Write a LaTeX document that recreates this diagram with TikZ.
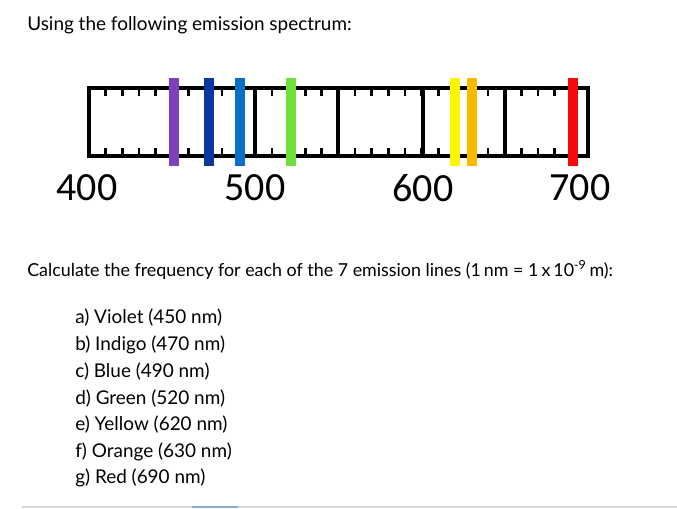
\documentclass[tikz,border=0pt]{standalone}
\usepackage{fontspec}
\setmainfont{Lato}
\newfontfamily\numfont{Carlito}
\begin{document}
\begin{tikzpicture}[x=0.75pt,y=-0.75pt,
  txt/.style={anchor=west,inner sep=0pt,font=\fontsize{14.2pt}{16pt}\selectfont},
  qtxt/.style={anchor=west,inner sep=0pt,font=\fontsize{13.4pt}{16pt}\selectfont},
  num/.style={inner sep=0pt,font=\numfont\fontsize{30pt}{32pt}\selectfont},
  frame/.style={line width=2.6pt,black},
  tick/.style={line width=2pt,black},
  sline/.style={line width=7.5pt}]
\useasboundingbox (0,0) rectangle (677,509);
\definecolor{cviolet}{HTML}{7F3FBF}
\definecolor{cindigo}{HTML}{0A37A0}
\definecolor{cblue}{HTML}{0A6FC8}
\definecolor{cgreen}{HTML}{70E03C}
\definecolor{cyellow}{HTML}{FFF500}
\definecolor{corange}{HTML}{FBBA00}
\definecolor{cred}{HTML}{F50A0A}
\definecolor{grayline}{HTML}{DADADA}
\definecolor{bluebar}{HTML}{8FAACB}
\node[txt] (title) at (27,25) {Using the following emission spectrum:};
% frame
\coordinate (tl) at (89,88);
\coordinate (br) at (588,156);
\draw[frame] (tl) rectangle (br);
\foreach \x in {255,338,423,505}{\draw[frame] (\x,88) -- (\x,156);}
\foreach \i in {1,...,29}{
  \pgfmathsetmacro{\xx}{89+\i*16.63}
  \draw[tick] (\xx,88) -- (\xx,96);
  \draw[tick] (\xx,156) -- (\xx,148);}
\foreach \x/\c in {174/cviolet,209/cindigo,240/cblue,291/cgreen,455/cyellow,472/corange,573/cred}{
  \draw[sline,\c] (\x,78) -- (\x,166);}
\node[num] (n400) at (87,188) {400};
\node[num] (n500) at (255,188) {500};
\node[num] (n600) at (423,188) {600};
\node[num] (n700) at (580,188) {700};
\node[qtxt] (q) at (27,270) {Calculate the frequency for each of the 7 emission lines (1\,nm = 1\,x\,10\textsuperscript{-9}\,m):};
\foreach \t [count=\k] in {a) Violet (450 nm),b) Indigo (470 nm),c) Blue (490 nm),d) Green (520 nm),e) Yellow (620 nm),f) Orange (630 nm),g) Red (690 nm)}{
  \node[txt] (l\k) at (75,{318+(\k-1)*26.7}) {\t};}
\draw[grayline,line width=1.5pt] (22,507) -- (677,507);
\draw[bluebar,line width=1.5pt] (192,507) -- (238,507);
\end{tikzpicture}
\end{document}
